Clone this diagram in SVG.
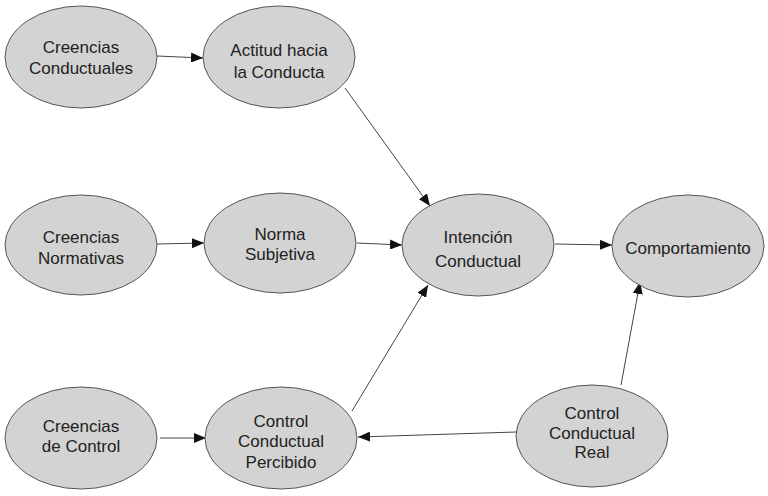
<svg xmlns="http://www.w3.org/2000/svg" width="768" height="496" viewBox="0 0 768 496">
<style>
.n ellipse{fill:#d3d3d3;stroke:#555;stroke-width:1}
.n text{font-family:"Liberation Sans",Arial,sans-serif;font-size:17px;fill:#222;text-anchor:middle}
.c line{stroke:#444;stroke-width:1;marker-end:url(#ah)}
</style>
<defs>
<marker id="ah" viewBox="0 0 12 10" refX="12" refY="5" markerWidth="12" markerHeight="10" markerUnits="userSpaceOnUse" orient="auto">
<path d="M0,0 L12,5 L0,10 z" fill="#111"/>
</marker>
</defs>
<rect width="768" height="496" fill="#fff"/>
<g class="c">
<line x1="157" y1="56" x2="203" y2="58"/>
<line x1="157" y1="244" x2="204" y2="243"/>
<line x1="345" y1="88" x2="430" y2="206"/>
<line x1="357" y1="243" x2="402" y2="245"/>
<line x1="555" y1="244" x2="612" y2="245"/>
<line x1="352" y1="411" x2="428" y2="285"/>
<line x1="160" y1="438" x2="206" y2="438"/>
<line x1="516" y1="432" x2="358" y2="437"/>
<line x1="621" y1="385" x2="640" y2="282"/>
</g>
<g id="creencias-conductuales" class="n"><ellipse cx="81" cy="57" rx="76" ry="51"/><text x="81" y="53">Creencias</text><text x="81" y="74">Conductuales</text></g>
<g id="actitud" class="n"><ellipse cx="279" cy="57" rx="76" ry="51"/><text x="279" y="56">Actitud hacia</text><text x="279" y="78">la Conducta</text></g>
<g id="creencias-normativas" class="n"><ellipse cx="81" cy="245" rx="76" ry="50"/><text x="81" y="243">Creencias</text><text x="81" y="264">Normativas</text></g>
<g id="norma-subjetiva" class="n"><ellipse cx="280" cy="243" rx="76" ry="50"/><text x="280" y="240">Norma</text><text x="280" y="260">Subjetiva</text></g>
<g id="intencion" class="n"><ellipse cx="478" cy="245" rx="76" ry="51"/><text x="478" y="243">Intención</text><text x="478" y="267">Conductual</text></g>
<g id="comportamiento" class="n"><ellipse cx="688" cy="246" rx="76" ry="51"/><text x="688" y="254">Comportamiento</text></g>
<g id="creencias-control" class="n"><ellipse cx="81" cy="438" rx="76" ry="51"/><text x="81" y="432">Creencias</text><text x="81" y="452">de Control</text></g>
<g id="ccp" class="n"><ellipse cx="281" cy="438" rx="76" ry="51"/><text x="281" y="427">Control</text><text x="281" y="447">Conductual</text><text x="281" y="468">Percibido</text></g>
<g id="ccr" class="n"><ellipse cx="592" cy="436" rx="76" ry="51"/><text x="592" y="419">Control</text><text x="592" y="439">Conductual</text><text x="592" y="458">Real</text></g>
</svg>
